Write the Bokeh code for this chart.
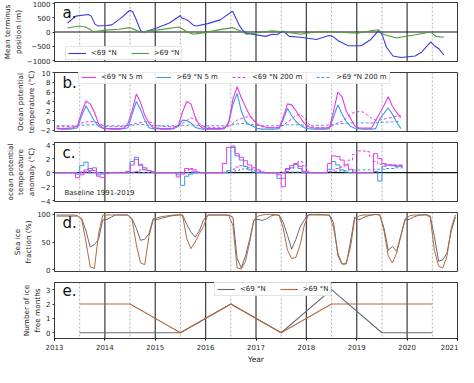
import numpy as np
from bokeh.plotting import figure
from bokeh.models import Range1d, Span, Label, Legend, LegendItem, FixedTicker
from bokeh.layouts import column
from bokeh.embed import file_html
from bokeh.resources import INLINE

FONT = "DejaVu Sans"
TXT = "#262626"

# ---------------- data ----------------
x_ticks = [2013, 2014, 2015, 2016, 2017, 2018, 2019, 2020, 2021]
x_tick_labels = ["2013", "2014", "2015", "2016", "2017", "2018", "2019", "2020", "2021"]
mid_years = [2013.5, 2014.5, 2015.5, 2016.5, 2017.5, 2018.5, 2019.5, 2020.5]

# a. mean terminus position (m)
a_lo_x = [2013.26, 2013.42, 2013.67, 2013.73, 2013.80, 2013.86, 2014.02, 2014.14, 2014.33, 2014.49,
          2014.55, 2014.62, 2014.71, 2014.78, 2014.84, 2015.03, 2015.28, 2015.50, 2015.52, 2015.57,
          2015.66, 2015.76, 2015.82, 2016.04, 2016.29, 2016.51, 2016.54, 2016.61, 2016.67, 2016.73,
          2016.81, 2017.19, 2017.32, 2017.41, 2017.54, 2017.66, 2017.88, 2018.20, 2018.45, 2018.52,
          2018.64, 2018.74, 2018.83, 2019.09, 2019.28, 2019.43, 2019.50, 2019.59, 2019.72, 2019.88,
          2020.16, 2020.29, 2020.47, 2020.54, 2020.63, 2020.73]
a_lo_y = [315, 554, 609, 554, 283, 207, 228, 250, 500, 750,
          717, 446, 43, 0, 33, 141, 315, 576, 500, 467,
          391, 228, 207, 293, 424, 696, 717, 446, 228, 65,
          -43, -152, -76, -98, 33, -152, -185, -261, -120, -152,
          -315, -402, -478, -478, -261, 43, -76, -533, -837, -891,
          -837, -696, -348, -478, -587, -804]
a_hi_x = [2013.26, 2013.48, 2013.61, 2013.70, 2013.76, 2014.02, 2014.27, 2014.49, 2014.62, 2014.71,
          2015.03, 2015.47, 2015.63, 2015.76, 2015.98, 2016.23, 2016.54, 2016.73, 2016.81, 2017.32,
          2017.54, 2017.88, 2018.20, 2018.52, 2019.02, 2019.28, 2019.43, 2019.53, 2019.78, 2020.16,
          2020.47, 2020.57, 2020.73]
a_hi_y = [141, 207, 174, 98, 11, 65, 98, 152, 65, 0,
          65, 174, 11, -76, -22, 65, 152, 11, -76, 43,
          11, -76, 11, 11, -43, 43, 76, -76, -207, -98,
          0, -152, -185]

# b. ocean potential temperature (monthly, Jan 2013 - Nov 2019)
b_lo5 = [-1.6, -1.7, -1.7, -1.6, -1.5, -1.0, 1.8, 4.1, 3.5, 1.8, -0.7, -1.6,
         -1.7, -1.7, -1.7, -1.7, -1.6, -0.6, 2.1, 5.6, 3.8, 1.1, -0.5, -1.5,
         -1.6, -1.7, -1.7, -1.7, -1.6, -1.0, 1.8, 4.0, 3.5, 0.8, -1.1, -1.6,
         -1.7, -1.7, -1.7, -1.7, -1.6, -0.5, 4.5, 7.1, 4.8, 2.9, 1.1, 0.0,
         -0.9, -1.2, -1.4, -1.5, -1.5, -1.5, 0.7, 3.5, 3.3, 2.1, 0.7, -0.6,
         -1.3, -1.5, -1.6, -1.6, -1.6, -1.5, 2.1, 6.0, 5.0, 2.0, 0.5, -1.1,
         -1.5, -1.6, -1.6, -1.6, 0.0, 1.6, 3.2, 5.0, 3.0, 1.7, 0.6]
b_hi5 = [-1.7, -1.8, -1.8, -1.8, -1.7, -1.5, 1.1, 3.1, 1.5, -0.1, -1.2, -1.6,
         -1.7, -1.8, -1.8, -1.8, -1.7, -1.5, 1.3, 4.0, 2.3, 0.1, -1.5, -1.7,
         -1.7, -1.8, -1.8, -1.8, -1.7, -1.2, 0.1, 0.0, -0.5, -1.4, -1.7, -1.8,
         -1.8, -1.8, -1.8, -1.8, -1.7, -0.3, 3.3, 5.7, 2.0, -0.2, -0.9, -1.3,
         -1.7, -1.8, -1.8, -1.8, -1.8, -1.7, 0.2, 2.6, 1.0, -0.2, -0.9, -1.5,
         -1.7, -1.8, -1.8, -1.8, -1.8, -1.7, 0.8, 3.3, 1.4, -0.2, -1.2, -1.6,
         -1.7, -1.8, -1.8, -1.8, -1.7, 0.4, 1.5, 2.7, 1.3, -0.3, -1.7]
b_lo200 = [-1.3, -1.3, -1.3, -1.3, -1.3, -1.1, -0.5, -0.3, -0.2, -0.3, -0.5, -1.0,
           -1.3, -1.3, -1.3, -1.3, -1.2, -1.0, -0.8, -0.6, -0.4, -0.2, -0.3, -0.5,
           -1.0, -1.2, -1.3, -1.3, -1.3, -1.2, -0.6, 0.0, 0.6, 0.2, -0.6, -1.2,
           -1.4, -1.5, -1.5, -1.5, -1.4, -1.2, -0.6, 0.1, 0.4, 0.7, 0.9, 0.0,
           -0.9, -1.3, -1.5, -1.5, -1.5, -1.4, -1.0, -0.3, 0.3, 1.1, 1.3, 0.6,
           -0.7, -1.3, -1.5, -1.5, -1.5, -1.4, -1.0, -0.4, -0.2, 0.5, 1.3, 1.8,
           1.9, 1.8, 1.2, 0.5, 0.1, 0.1, 0.3, 0.5, 0.7, 0.9, 1.0]
b_hi200 = [-1.1, -1.1, -1.1, -1.1, -1.1, -1.1, -1.0, -0.9, -0.9, -0.9, -1.0, -1.1,
           -1.1, -1.1, -1.1, -1.1, -1.1, -1.0, -1.0, -0.9, -0.8, -0.9, -1.0, -1.0,
           -1.1, -1.1, -1.1, -1.1, -1.1, -1.1, -1.0, -1.0, -0.9, -1.0, -1.0, -1.1,
           -1.1, -1.1, -1.1, -1.1, -1.1, -1.0, -0.9, -0.7, -0.6, -0.7, -0.8, -0.9,
           -1.0, -1.1, -1.1, -1.1, -1.1, -1.1, -1.0, -0.9, -0.9, -0.9, -0.9, -1.0,
           -1.0, -1.0, -1.0, -1.0, -1.0, -0.9, -0.8, -0.7, -0.6, -0.6, -0.5, -0.5,
           -0.5, -0.5, -0.5, -0.5, -0.5, -0.4, -0.4, -0.3, -0.3, -0.2, -0.2]

# c. temperature anomaly (monthly steps, Jan 2013 - Nov 2019)
c_lo5 = [0, 0, 0, 0, 0, -0.7, -0.3, 0.4, 0.6, 0.3, -0.5, -0.7,
         -0.1, 0, 0, 0, 0, 0.2, 1.1, 1.9, 1.0, 0.7, 0.3, 0.1,
         0, 0, 0, 0, 0, -0.6, -0.2, 0.6, 0.5, 0.2, 0, 0,
         0, 0, 0, 0, 1.3, 3.6, 3.6, 2.7, 2.2, 1.7, 1.1, 0.7,
         0.4, 0.1, 0, 0, 0, -0.3, -2.0, 0.6, 1.0, 1.3, 0.9, 0.2,
         0, 0, 0, 0, 0, 1.3, 2.4, 2.3, 1.8, 1.1, 0.5, 0.1,
         0, 0, 0, 0, 2.7, 2.0, 1.3, 1.1, 1.1, 1.0, 1.0]
c_hi5 = [0, 0, 0, 0, 0, -0.2, 1.0, 1.5, 0.3, 0.7, -0.3, -0.2,
         0, 0, 0, 0, 0, 0.1, 1.6, 2.2, 1.2, 0.4, 0.3, 0.1,
         0, 0, 0, 0, 0, -0.3, -1.8, -0.5, -0.2, 0, 0, 0,
         0, 0, 0, 0, 0, 0.3, 3.8, 2.4, 1.8, 0.9, 0.4, 0.1,
         0, 0, 0, 0, 0, -0.8, -0.8, 0.5, 0.7, 1.2, 0.6, 0,
         0, 0, 0, 0, 0, 0.5, 1.6, 1.1, 0.4, 0.1, 0, 0,
         0, 0, 0, 0, 0.2, -1.2, 0.9, 1.1, 1.0, 0.9, 0.9]
c_lo200 = [0, 0, 0, 0, 0, 0, 0, 0.1, 0.2, 0, 0, 0,
           0, 0, 0, 0, 0, 0, 0, 0.2, 0.4, 0.5, 0.3, 0.1,
           0, 0, 0, 0, 0, 0, 0, 0.3, 0.6, 0.4, 0.1, 0,
           0, 0, 0, 0, 0, 0.2, 0.5, 0.8, 1.0, 0.9, 0.7, 0.5,
           0.3, 0.1, 0, 0, 0, 0, 0, 0.2, 0.6, 1.2, 1.6, 1.0,
           0.2, 0, 0, 0, 0, 0.2, 0.4, 0.6, 0.8, 1.2, 1.8, 2.6,
           3.1, 3.1, 3.0, 2.3, 1.6, 1.2, 1.1, 1.1, 1.1, 1.1, 1.1]
c_hi200 = [0, 0, 0, 0, 0, 0, 0.1, 0.1, 0, 0, 0, 0,
           0, 0, 0, 0, 0, 0, 0.1, 0.1, 0.1, 0, 0, 0,
           0, 0, 0, 0, 0, 0, 0, 0, 0.1, 0, 0, 0,
           0, 0, 0, 0, 0, 0, 0.1, 0.3, 0.5, 0.6, 0.5, 0.3,
           0.1, 0, 0, 0, 0, 0, 0, 0.1, 0.1, 0.1, 0.1, 0,
           0, 0, 0, 0, 0, 0.1, 0.2, 0.2, 0.3, 0.3, 0.4, 0.4,
           0.4, 0.4, 0.4, 0.4, 0.5, 0.5, 0.5, 0.6, 0.6, 0.7, 0.7]

# d. sea ice fraction (%) (monthly, Jan 2013 - Dec 2020)
d_lo = [97, 97, 97, 97, 97, 97, 92, 70, 41, 45, 55, 90,
        91, 95, 99, 99, 99, 99, 92, 75, 53, 55, 65, 92,
        91, 93, 95, 97, 98, 99, 99, 82, 68, 59, 70, 90,
        99, 99, 99, 99, 99, 99, 95, 20, 3, 25, 55, 90,
        91, 89, 92, 97, 99, 99, 85, 62, 37, 55, 77, 90,
        100, 100, 100, 100, 99, 99, 85, 25, 10, 10, 50, 95,
        90, 94, 97, 99, 100, 99, 75, 35, 42, 33, 62, 90,
        91, 95, 98, 99, 100, 97, 60, 15, 18, 30, 70, 95]
d_hi = [99, 99, 99, 99, 99, 98, 90, 50, 5, 2, 65, 99,
        99, 99, 99, 99, 99, 99, 90, 45, 12, 9, 60, 90,
        94, 96, 97, 98, 99, 99, 99, 56, 38, 50, 65, 78,
        99, 99, 99, 99, 99, 98, 80, 3, 1, 15, 50, 90,
        97, 99, 100, 100, 100, 98, 75, 35, 20, 22, 45, 80,
        99, 99, 99, 99, 99, 99, 75, 30, 10, 12, 40, 92,
        97, 99, 99, 99, 100, 99, 70, 25, 12, 30, 60, 92,
        97, 99, 99, 99, 99, 95, 35, 6, 3, 25, 75, 99]

# e. number of ice free months (yearly)
e_lo = [0, 0, 0, 2, 0, 3, 0, 0]
e_hi = [2, 2, 0, 2, 0, 2, 2, 2]

# ---------------- styling ----------------
C_BLUE_A = "#3b3bdc"
C_GREEN = "#4f9a3c"
C_MAG = "#e63ce6"
C_LBLUE = "#3f98e8"
C_GRAY = "#676b78"
C_BROWN = "#b5683f"

W = 458
LB = 42
xr = Range1d(2013, 2021)


def fmt(t):
    s = str(t)
    return s.replace("-", "\u2212")


def base(height, top, bottom, yr, yticks, ylabel, letter):
    p = figure(width=W, height=height, x_range=xr, y_range=Range1d(*yr), title=None,
               output_backend="svg", toolbar_location=None,
               min_border_left=LB, min_border_right=1,
               min_border_top=top, min_border_bottom=bottom)
    p.outline_line_color = "#3a3a3a"
    p.outline_line_width = 1
    p.grid.visible = False
    p.xaxis.visible = False
    ya = p.yaxis[0]
    ya.ticker = FixedTicker(ticks=yticks)
    ya.major_label_overrides = {t: fmt(t) for t in yticks}
    ya.minor_tick_line_color = None
    ya.major_tick_out = 2
    ya.major_tick_in = 0
    ya.major_label_standoff = 2
    ya.major_label_text_font = FONT
    ya.major_label_text_font_size = "7px"
    ya.major_label_text_color = TXT
    ya.axis_line_color = "#3a3a3a"
    ya.major_tick_line_color = "#3a3a3a"
    ya.axis_label = ylabel
    ya.axis_label_text_font = FONT
    ya.axis_label_text_font_size = "7.3px"
    ya.axis_label_text_font_style = "normal"
    ya.axis_label_text_color = TXT
    ya.axis_label_standoff = 1
    for yv in x_ticks[1:-1]:
        p.add_layout(Span(location=yv, dimension="height", line_color="#4a4a4a",
                          line_width=1.3, level="underlay"))
    for mv in mid_years:
        p.add_layout(Span(location=mv, dimension="height", line_color="#a8a8a8",
                          line_width=0.9, line_dash="2 2", level="underlay"))
    p.add_layout(Label(x=2013, y=yr[1], x_offset=8, y_offset=-1, text=letter,
                       text_font=FONT, text_font_size="15px", text_baseline="top",
                       text_color="#111111"))
    return p


def legend(items, loc, spacing=10, glyph_w=18):
    return Legend(items=items, orientation="horizontal", location=loc,
                  label_text_font=FONT, label_text_font_size="7px", label_text_color=TXT,
                  glyph_width=glyph_w, glyph_height=8, label_height=8, label_standoff=5,
                  spacing=spacing, padding=2, margin=0,
                  border_line_color="#cccccc", border_line_width=1,
                  background_fill_color="white", background_fill_alpha=0.9)


# ---------- panel a ----------
pa = base(66, 2, 5, (-1030, 1030), [-1000, -500, 0, 500, 1000],
          "Mean terminus\nposition (m)", "a.")
pa.add_layout(Span(location=0, dimension="width", line_color="#111111", line_width=1.2,
                   level="underlay"))
ra1 = pa.line(a_lo_x, a_lo_y, line_color=C_BLUE_A, line_width=1.1)
ra2 = pa.line(a_hi_x, a_hi_y, line_color=C_GREEN, line_width=1.1)
pa.add_layout(legend([LegendItem(label="<69 °N", renderers=[ra1]),
                      LegendItem(label=">69 °N", renderers=[ra2])], (11, 1), spacing=14))

# ---------- panel b ----------
xb = 2013 + (np.arange(len(b_lo5)) + 0.5) / 12.0
pb = base(70, 6, 5, (-2.3, 10.1), [-2, 0, 2, 4, 6, 8, 10],
          "Ocean potential\ntemperature (\u00b0C)", "b.")
rb3 = pb.line(xb, b_lo200, line_color=C_MAG, line_width=1.0, line_dash="3 2")
rb4 = pb.line(xb, b_hi200, line_color=C_LBLUE, line_width=1.0, line_dash="3 2")
rb2 = pb.line(xb, b_hi5, line_color=C_LBLUE, line_width=1.1)
rb1 = pb.line(xb, b_lo5, line_color=C_MAG, line_width=1.1)
pb.add_layout(legend([LegendItem(label="<69 \u00b0N 5 m", renderers=[rb1]),
                      LegendItem(label=">69 \u00b0N 5 m", renderers=[rb2]),
                      LegendItem(label="<69 \u00b0N 200 m", renderers=[rb3]),
                      LegendItem(label=">69 \u00b0N 200 m", renderers=[rb4])],
                     (24, 47), spacing=14, glyph_w=15))

# ---------- panel c ----------
pc = base(70, 6, 5, (-4.1, 4.3), [-4, -2, 0, 2, 4],
          "ocean potential\ntemperature\nanomaly (\u00b0C)", "c.")
pc.add_layout(Span(location=0, dimension="width", line_color="#111111", line_width=1.3,
                   level="underlay"))
xc = 2013 + np.arange(len(c_lo5) + 1) / 12.0
for ser, col, dash in [(c_hi200, C_LBLUE, "3 2"), (c_lo200, C_MAG, "3 2"),
                       (c_hi5, C_LBLUE, "solid"), (c_lo5, C_MAG, "solid")]:
    pc.step(xc, list(ser) + [ser[-1]], mode="after", line_color=col, line_width=1.0,
            line_dash=dash)
pc.add_layout(Label(x=2013, y=-4.1, x_offset=10, y_offset=5, text="Baseline 1991-2019",
                    text_font=FONT, text_font_size="7px", text_color=TXT,
                    text_baseline="bottom"))

# ---------- panel d ----------
xd = 2013 + (np.arange(len(d_lo)) + 0.5) / 12.0
pd_ = base(70, 6, 5, (-3.5, 103.5), [0, 50, 100], "Sea ice\nfraction (%)", "d.")
pd_.line(xd, d_lo, line_color=C_GRAY, line_width=1.0)
pd_.line(xd, d_hi, line_color=C_BROWN, line_width=1.0)

# ---------- panel e ----------
pe = base(90, 6, 25, (-0.4, 3.5), [0, 1, 2, 3], "Number of ice\nfree months", "e.")
re1 = pe.line(mid_years, e_lo, line_color=C_GRAY, line_width=1.1)
re2 = pe.line(mid_years, e_hi, line_color=C_BROWN, line_width=1.1)
pe.add_layout(legend([LegendItem(label="<69 \u00b0N", renderers=[re1]),
                      LegendItem(label=">69 \u00b0N", renderers=[re2])], (160, 42),
                     spacing=14, glyph_w=18))
pe.xaxis.visible = True
xa = pe.xaxis[0]
xa.ticker = FixedTicker(ticks=x_ticks)
xa.major_label_overrides = dict(zip(x_ticks, x_tick_labels))
xa.minor_tick_line_color = None
xa.major_tick_out = 2
xa.major_tick_in = 0
xa.major_label_standoff = 3
xa.major_label_text_font = FONT
xa.major_label_text_font_size = "7px"
xa.major_label_text_color = TXT
xa.axis_line_color = "#3a3a3a"
xa.axis_label = "Year"
xa.axis_label_text_font = FONT
xa.axis_label_text_font_size = "7.5px"
xa.axis_label_text_font_style = "normal"
xa.axis_label_text_color = TXT
xa.axis_label_standoff = 2

layout = column(pa, pb, pc, pd_, pe, spacing=0)
open("out.html", "w").write(file_html(layout, INLINE))
